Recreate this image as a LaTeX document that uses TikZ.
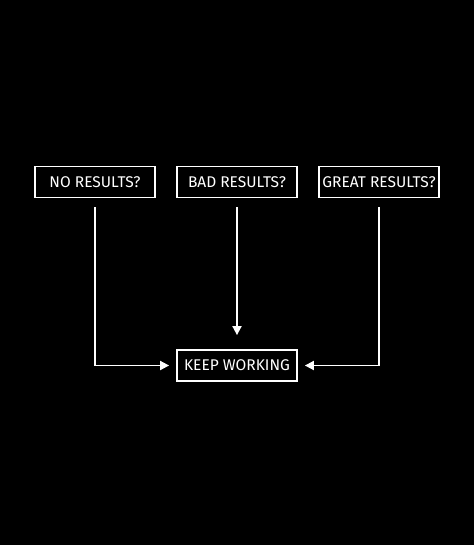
\documentclass[tikz,border=0pt]{standalone}
\usepackage{fontspec}
\setmainfont{Fira Sans}
\usetikzlibrary{arrows.meta}
\begin{document}
\begin{tikzpicture}[x=1pt, y=-1pt,
    box/.style={draw=white, line width=1.8pt, minimum width=120pt, minimum height=31pt,
        inner sep=0pt, text=white, font=\fontsize{15.5}{18}\selectfont},
    flow/.style={draw=white, line width=1.8pt, -{Triangle[length=9pt, width=9pt]}}]
    \fill[black] (0,0) rectangle (474,545);
    \node[box] (nores) at (95,182) {NO RESULTS?};
    \node[box] (badres) at (237,182) {BAD RESULTS?};
    \node[box] (greatres) at (379,182) {GREAT RESULTS?};
    \node[box] (keep) at (237,365.5) {KEEP WORKING};
    \draw[flow, shorten <=9pt, shorten >=7pt] (nores.south) |- (keep.west);
    \draw[flow, shorten <=9pt, shorten >=14pt] (badres.south) -- (keep.north);
    \draw[flow, shorten <=9pt, shorten >=7pt] (greatres.south) |- (keep.east);
\end{tikzpicture}
\end{document}
